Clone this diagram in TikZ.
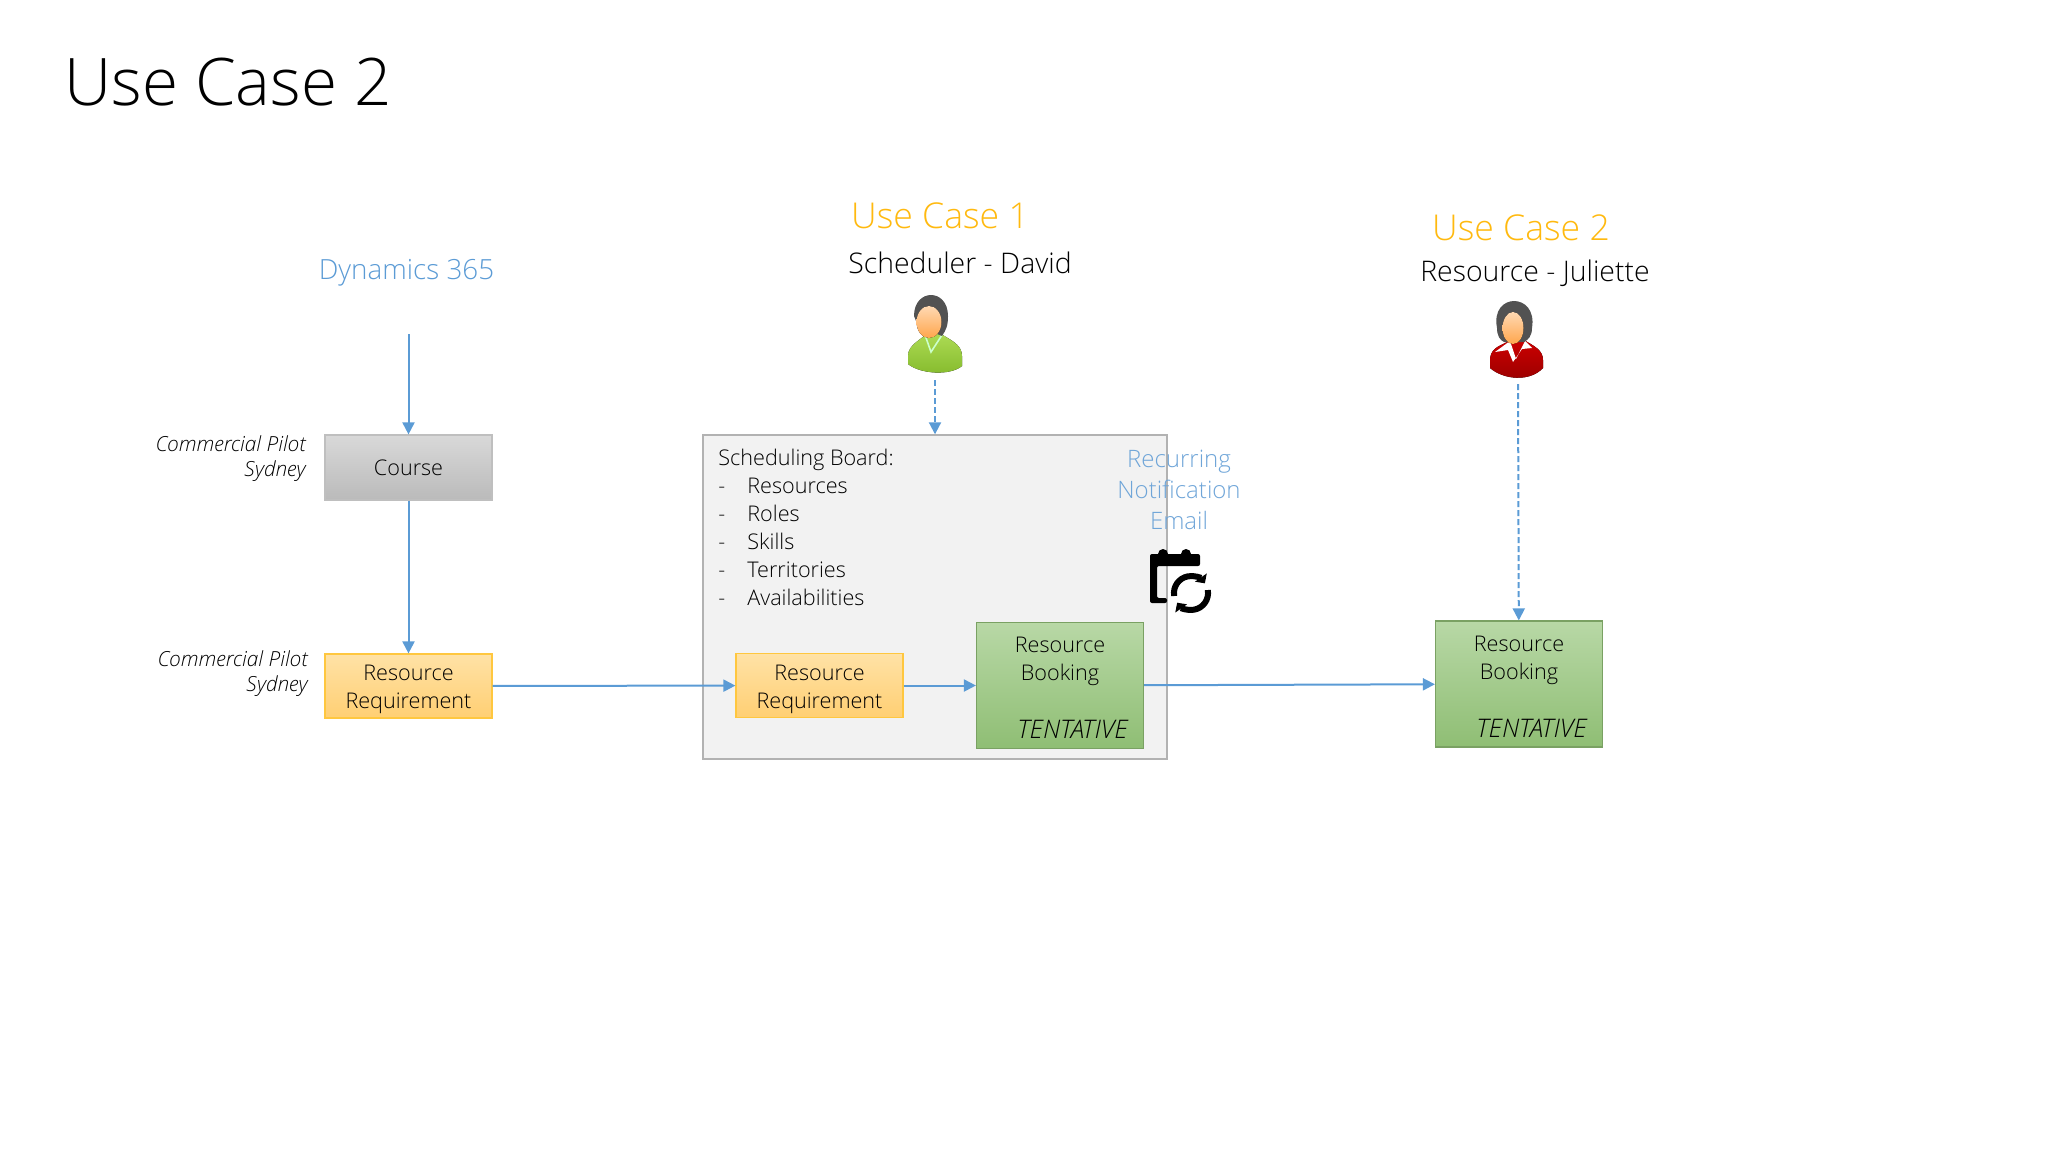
\documentclass[tikz,border=0pt]{standalone}
\usepackage{fontspec}
\setmainfont{Open Sans Light}[ItalicFont = Open Sans Light Italic]
\usetikzlibrary{arrows.meta}
\definecolor{inkblack}{HTML}{000000}
\definecolor{linkblue}{HTML}{5B9BD5}
\definecolor{paleblue}{HTML}{6FA5D8}
\definecolor{caseyellow}{HTML}{FFB90F}
\definecolor{reqtop}{HTML}{FFE2A6}
\definecolor{reqbottom}{HTML}{FFCF73}
\definecolor{booktop}{HTML}{B8D8A6}
\definecolor{bookbottom}{HTML}{8FBE74}
\definecolor{shirttop}{HTML}{AEDC55}
\definecolor{shirtbottom}{HTML}{84BA2C}
\newcommand{\bodyfont}{\fontsize{10.8}{14}\selectfont}
\tikzstyle{coursebox} = [rectangle, minimum width = 83.5pt, minimum height = 32.5pt, inner sep = 0pt, text centered, draw = black!25, line width = .6pt, top color = black!15, bottom color = black!27, text = inkblack, font = \bodyfont]
\tikzstyle{reqbox} = [rectangle, minimum width = 83.5pt, minimum height = 32pt, inner sep = 0pt, draw = caseyellow!80, line width = .6pt, top color = reqtop, bottom color = reqbottom]
\tikzstyle{bookbox} = [rectangle, minimum width = 83.5pt, minimum height = 63pt, inner sep = 0pt, draw = bookbottom!85!black, line width = .6pt, top color = booktop, bottom color = bookbottom]
\tikzstyle{boardbox} = [rectangle, minimum width = 232pt, minimum height = 162pt, inner sep = 0pt, draw = black!30, line width = .7pt, fill = black!5]
\tikzstyle{sidetext} = [align = right, anchor = east, inner sep = 0pt, text = inkblack, font = \fontsize{10.4}{12.5}\selectfont\itshape]
\tikzstyle{plain} = [inner sep = 0pt, text = inkblack, align = center, font = \bodyfont]
\tikzstyle{statetext} = [plain, anchor = east, font = \fontsize{12.8}{14}\selectfont\itshape]
\tikzstyle{arrow} = [linkblue, line width = 1pt, -{Triangle[length = 6pt, width = 6pt]}]
\tikzstyle{dasharrow} = [arrow, dash pattern = on 3pt off 1.5pt]
\begin{document}
\begin{tikzpicture}[x = .5pt, y = -.5pt, node distance = 109pt]
    \useasboundingbox (0,0) rectangle (2048,1152);

    \node(title)[anchor = west, inner sep = 0pt, text = black, font = \fontsize{32.8}{36}\selectfont] at (64,82){Use Case 2};
    \node(dynamics)[inner sep = 0pt, text = linkblue, font = \fontsize{13.9}{16}\selectfont] at (406.5,273){Dynamics 365};
    \node(case1)[inner sep = 0pt, text = caseyellow, font = \fontsize{17.8}{20}\selectfont] at (940,216){Use Case 1};
    \node(scheduler)[plain, font = \fontsize{14.2}{17}\selectfont] at (960,263){Scheduler - David};
    \node(case2)[inner sep = 0pt, text = caseyellow, font = \fontsize{17.8}{20}\selectfont] at (1521,228){Use Case 2};
    \node(resource)[plain, font = \fontsize{14.2}{17}\selectfont] at (1535,273){Resource - Juliette};

    \node(board)[boardbox] at (935,597){};
    \node(boardtext)[anchor = north west, inner sep = 0pt, text = inkblack, align = left, font = \bodyfont] at (718,449){Scheduling Board:\\
        \makebox[14.5pt][l]{-}Resources\\
        \makebox[14.5pt][l]{-}Roles\\
        \makebox[14.5pt][l]{-}Skills\\
        \makebox[14.5pt][l]{-}Territories\\
        \makebox[14.5pt][l]{-}Availabilities};

    \node(course)[coursebox] at (408.5,467.5){Course};
    \node(req1)[reqbox, below of = course, yshift = -.25pt]{};
    \node(req1text)[plain] at (408.5,689){Resource\\Requirement};
    \node(req2)[reqbox] at (819.5,685.5){};
    \node(req2text)[plain] at (819.5,689){Resource\\Requirement};
    \node(book1)[bookbox] at (1060,685.5){};
    \node(book1text)[plain, anchor = north] at (1060,637){Resource\\Booking};
    \node(book1state)[statetext] at (1128,729){TENTATIVE};
    \node(book2)[bookbox] at (1519,684){};
    \node(book2text)[plain, anchor = north] at (1519,636){Resource\\Booking};
    \node(book2state)[statetext] at (1587,728){TENTATIVE};

    \node(label1)[sidetext] at (306,459){Commercial Pilot\\Sydney};
    \node(label2)[sidetext] at (308,674){Commercial Pilot\\Sydney};
    \node(email)[inner sep = 0pt, text = paleblue, align = center, font = \fontsize{12}{15.3}\selectfont] at (1179,490){Recurring\\Notification\\Email};

    % first person, green
    \fill[top color = shirttop, bottom color = shirtbottom] (908,356) .. controls (908,344) and (922,340) .. (928,332) -- (938,332) .. controls (950,340) and (962,344) .. (962,356) -- (962,366) .. controls (950,376) and (920,374) .. (908,364) -- cycle;
    \draw[white!80!green, line width = .8pt] (925,335) -- (931,352) -- (942,335);
    \fill[black!68] (914,316) .. controls (914,288) and (948,288) .. (948,316) .. controls (948,326) and (946,330) .. (942,336) -- (918,326) -- cycle;
    \fill[top color = orange!30, bottom color = orange!70] (929,322) ellipse [x radius = 12.5, y radius = 16];

    % second person, red
    \fill[top color = red!80!black, bottom color = red!60!black] (1490,358) .. controls (1492,346) and (1502,346) .. (1510,340) -- (1524,340) .. controls (1534,346) and (1543,350) .. (1543,360) -- (1543,368) .. controls (1530,382) and (1504,380) .. (1490,368) -- cycle;
    \fill[white] (1495,352) -- (1510,341) -- (1516,359) -- (1525,341) -- (1532,348) -- (1522,349) -- (1513,362) -- (1508,350) -- cycle;
    \fill[black!68] (1497,328) .. controls (1490,292) and (1538,292) .. (1532,328) .. controls (1532,336) and (1528,340) .. (1524,342) -- (1504,342) .. controls (1500,340) and (1497,336) .. (1497,328) -- cycle;
    \fill[top color = orange!30, bottom color = orange!70] (1513,328) ellipse [x radius = 10.5, y radius = 16];

    % calendar and sync icon
    \fill[black, rounded corners = 1pt] (1150,603) -- (1150,554) -- (1200,554) -- (1200,566) -- (1157,566) -- (1157,598) -- (1167,598) -- (1167,603) -- cycle;
    \fill[black] (1163,554) circle [radius = 5];
    \fill[black] (1186,554) circle [radius = 5];
    \draw[black, line width = 3pt, -{Triangle[length = 3.5pt, width = 7pt]}] (1174.2,596) arc [start angle = 170, end angle = 325, radius = 17];
    \draw[black, line width = 3pt, -{Triangle[length = 3.5pt, width = 7pt]}] (1207.8,590) arc [start angle = -10, end angle = 145, radius = 17];

    % connectors
    \coordinate(dynamicsend) at (408.5,334);
    \coordinate(davidend) at (935,380);
    \coordinate(julietteend) at (1518,384);
    \draw[arrow](dynamicsend)--(course);
    \draw[arrow](course)--(req1);
    \draw[arrow](req1)--(req2);
    \draw[arrow](req2)--(book1);
    \draw[arrow](book1)--(book2);
    \draw[dasharrow](davidend)--(board);
    \draw[dasharrow](julietteend)--(book2);
\end{tikzpicture}
\end{document}
